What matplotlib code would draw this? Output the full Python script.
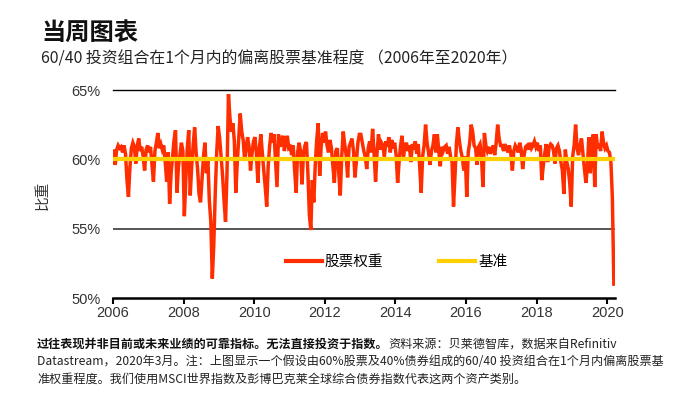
import numpy as np
import matplotlib
matplotlib.use("Agg")
import matplotlib.pyplot as plt

CJK = ['Noto Sans CJK SC', 'DejaVu Sans']
plt.rcParams['font.family'] = CJK

# Semi-monthly equity weight of a 60/40 portfolio (%)
w2006 = [60.6, 59.6, 60.7, 61.0, 60.8, 60.9, 60.5, 61.0, 60.4, 58.5, 57.3, 59.4,
         60.8, 61.2, 60.9, 59.7, 61.0, 61.5, 60.6, 60.9, 60.2, 59.2, 60.7, 61.0]
w2007 = [60.5, 60.9, 59.6, 58.4, 60.6, 61.2, 61.9, 60.8, 61.1, 60.7, 61.0, 59.8,
         58.4, 60.5, 56.8, 59.0, 60.2, 61.4, 62.1, 57.6, 59.5, 60.3, 61.2, 60.6]
w2008 = [55.9, 58.5, 60.8, 62.1, 57.4, 59.5, 61.0, 62.3, 60.5, 59.3, 57.5, 56.9,
         58.5, 60.2, 61.2, 59.0, 60.0, 57.0, 55.5, 51.4, 53.8, 57.5, 60.5, 62.4]
w2009 = [61.5, 60.2, 58.8, 57.0, 55.5, 59.0, 64.7, 63.0, 62.0, 62.6, 61.3, 57.6,
         59.8, 61.5, 63.3, 62.0, 61.4, 59.9, 60.8, 61.6, 60.9, 59.2, 60.4, 61.3]
w2010 = [61.6, 60.4, 58.3, 60.8, 61.8, 60.5, 59.2, 58.0, 56.6, 59.5, 61.0, 61.9,
         61.2, 61.8, 59.9, 58.0, 61.8, 60.9, 61.4, 61.7, 60.6, 61.2, 61.7, 60.8]
w2011 = [60.9, 60.3, 61.0, 59.2, 57.6, 60.5, 61.2, 60.6, 58.2, 60.4, 61.0, 61.25,
         59.0, 56.0, 54.9, 58.5, 56.9, 59.6, 61.4, 62.6, 58.8, 60.9, 61.9, 61.2]
w2012 = [62.0, 61.0, 60.5, 61.4, 60.8, 59.5, 58.3, 60.6, 60.8, 59.0, 57.4, 60.2,
         62.0, 61.1, 60.3, 58.7, 60.9, 61.2, 61.5, 60.6, 58.7, 59.9, 61.2, 61.8]
w2013 = [61.8, 61.2, 60.6, 60.2, 59.3, 60.8, 61.3, 60.5, 62.2, 60.4, 58.4, 60.5,
         61.8, 60.7, 61.2, 61.0, 60.2, 61.3, 60.9, 61.6, 60.5, 61.4, 60.8, 61.2]
w2014 = [60.3, 58.3, 59.8, 61.0, 61.7, 60.2, 60.9, 61.2, 60.6, 61.0, 59.8, 61.1,
         60.7, 61.3, 60.4, 61.1, 59.5, 57.6, 60.2, 61.0, 62.5, 61.2, 60.5, 59.6]
w2015 = [60.6, 61.0, 61.8, 60.5, 61.8, 60.6, 59.5, 60.9, 60.6, 60.9, 61.0, 60.4,
         60.9, 60.2, 59.8, 56.6, 58.8, 61.2, 62.3, 61.3, 60.6, 60.1, 59.2, 60.2]
w2016 = [57.3, 60.5, 61.2, 62.5, 62.0, 61.0, 60.8, 59.6, 60.9, 61.1, 60.2, 58.0,
         61.9, 61.0, 60.6, 60.9, 60.4, 60.7, 61.0, 60.3, 61.2, 62.5, 61.5, 61.0]
w2017 = [61.0, 60.6, 61.1, 60.8, 60.5, 61.0, 60.4, 59.2, 60.6, 61.0, 60.8, 60.5,
         61.2, 60.7, 59.3, 60.3, 60.9, 61.0, 60.7, 61.2, 60.8, 61.0, 61.3, 60.9]
w2018 = [61.2, 60.6, 61.0, 58.5, 59.5, 60.4, 61.1, 59.8, 60.9, 61.1, 61.0, 60.6,
         59.7, 60.8, 61.0, 60.6, 59.8, 59.2, 57.5, 60.7, 59.8, 59.3, 58.3, 56.6]
w2019 = [60.2, 61.0, 62.5, 60.8, 60.3, 61.0, 61.5, 60.4, 59.3, 58.3, 59.5, 61.6,
         59.0, 60.5, 61.8, 58.0, 61.8, 60.8, 61.1, 60.6, 62.0, 61.2, 60.8, 61.0]
w2020 = [60.6, 60.5, 59.8, 57.2, 51.0]

benchmark = 60.0
start_year = 2006
periods_per_year = 24

y_ticks = [50, 55, 60, 65]
y_ticklabels = ['50%', '55%', '60%', '65%']
x_ticks = [2006, 2008, 2010, 2012, 2014, 2016, 2018, 2020]

title = '当周图表'
subtitle = '60/40 投资组合在1个月内的偏离股票基准程度 （2006年至2020年）'
ylabel = '比重'
series_labels = ['股票权重', '基准']
note_bold = '过往表现并非目前或未来业绩的可靠指标。无法直接投资于指数。'
note_line1 = '资料来源：贝莱德智库，数据来自Refinitiv'
note_line2 = 'Datastream，2020年3月。注：上图显示一个假设由60%股票及40%债券组成的60/40 投资组合在1个月内偏离股票基'
note_line3 = '准权重程度。我们使用MSCI世界指数及彭博巴克莱全球综合债券指数代表这两个资产类别。'

weights = np.array(w2006 + w2007 + w2008 + w2009 + w2010 + w2011 + w2012 +
                   w2013 + w2014 + w2015 + w2016 + w2017 + w2018 + w2019 + w2020)
t = start_year + (np.arange(len(weights)) + 0.5) / periods_per_year

RED = '#FF2E00'
YELLOW = '#FFD000'

W, H = 683, 403
fig = plt.figure(figsize=(W / 100, H / 100), dpi=100)
ax = fig.add_axes([113 / W, 1 - 298 / H, 502 / W, 208 / H])

ax.axhline(65, color='black', lw=1.0, clip_on=False, zorder=1)
ax.axhline(55, color='#555555', lw=1.4, zorder=1)
l1, = ax.plot(t, weights, color=RED, lw=2.5, solid_joinstyle='miter', zorder=2,
              label=series_labels[0])
l2, = ax.plot([t[0] - 0.5 / periods_per_year, t[-1]], [benchmark, benchmark],
              color=YELLOW, lw=3.0, zorder=3, label=series_labels[1])

ax.set_xlim(2006, 2020.22)
ax.set_ylim(50, 65)
for s in ['top', 'right', 'left']:
    ax.spines[s].set_visible(False)
ax.spines['bottom'].set_linewidth(1.8)
ax.spines['bottom'].set_color('black')

ax.set_yticks(y_ticks)
ax.set_yticklabels(y_ticklabels)
ax.set_xticks(x_ticks)
ax.set_xticklabels([str(x) for x in x_ticks])
ax.tick_params(axis='y', length=0, pad=9, labelsize=10.5, labelcolor='#333333')
ax.tick_params(axis='x', length=4, width=1.5, direction='out', pad=2,
               labelsize=10.5, labelcolor='#333333', color='black')
for lab in ax.get_xticklabels() + ax.get_yticklabels():
    lab.set_family(['Liberation Sans', 'DejaVu Sans'])

ax.set_ylabel(ylabel, fontsize=10.5, color='#333333')
ax.yaxis.set_label_coords(-0.1275, 0.495)

leg = ax.legend(handles=[l1, l2], ncol=2, frameon=False, loc='center',
                bbox_to_anchor=(396.5 / W, 1 - 261.7 / H),
                bbox_transform=fig.transFigure, fontsize=10.5,
                handlelength=2.5, handletextpad=0.2, columnspacing=3.8,
                borderpad=0)
for line in leg.get_lines():
    line.set_linewidth(3.0)

fig.text(41 / W, 1 - 32.5 / H, title, fontsize=17.5, fontweight='bold',
         color='#111111', va='center', ha='left')
fig.text(41 / W, 1 - 58.5 / H, subtitle, fontsize=11.4, color='#222222',
         va='center', ha='left')

fs_note = 8.7
y1, y2, y3 = 1 - 344 / H, 1 - 361.5 / H, 1 - 379 / H
tb = fig.text(37 / W, y1, note_bold, fontsize=fs_note, fontweight='bold',
              color='#111111', va='center', ha='left')
fig.canvas.draw()
bb = tb.get_window_extent(renderer=fig.canvas.get_renderer())
x_after = bb.x1 / fig.bbox.width
fig.text(x_after, y1, note_line1, fontsize=fs_note, color='#222222',
         va='center', ha='left')
fig.text(37 / W, y2, note_line2, fontsize=fs_note, color='#222222',
         va='center', ha='left')
fig.text(37 / W, y3, note_line3, fontsize=fs_note, color='#222222',
         va='center', ha='left')

fig.savefig('out.png', dpi=100)
